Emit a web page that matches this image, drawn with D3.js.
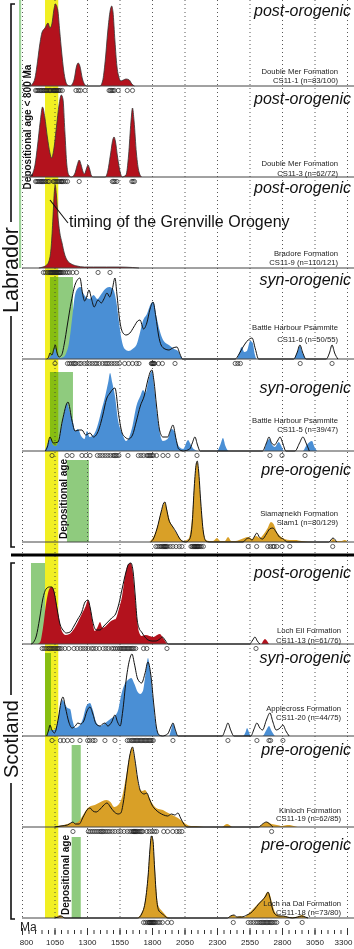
<!DOCTYPE html>
<html>
<head>
<meta charset="utf-8">
<script src="https://cdn.jsdelivr.net/npm/d3@7"></script>
<style>
  body { margin: 0; background: #fff; }
  svg { display: block; font-family: "Liberation Sans", Arial, sans-serif; }
</style>
</head>
<body>
<svg id="chart" width="354" height="949"></svg>
<script>
// ---- data -------------------------------------------------------------
const majorTicks = [800, 1050, 1300, 1550, 1800, 2050, 2300, 2550, 2800, 3050, 3300];
const tickLabels = ['800', '1050', '1300', '1550', '1800', '2050', '2300', '2550', '2800', '3050', '3300'];

const regions = ['Labrador', 'Scotland'];
const stages = ['post-orogenic', 'post-orogenic', 'post-orogenic', 'syn-orogenic', 'syn-orogenic',
  'pre-orogenic', 'post-orogenic', 'syn-orogenic', 'pre-orogenic', 'pre-orogenic'];
const formations = ['Double Mer Formation', 'Double Mer Formation', 'Bradore Formation',
  'Battle Harbour Psammite', 'Battle Harbour Psammite', 'Siamarnekh Formation',
  'Loch Eil Formation', 'Applecross Formation', 'Kinloch Formation', 'Loch na Dal Formation'];
const samples = ['CS11-1 (n=83/100)', 'CS11-3 (n=62/72)', 'CS11-9 (n=110/121)', 'CS11-6 (n=50/55)',
  'CS11-5 (n=39/47)', 'Siam1 (n=80/129)', 'CS11-13 (n=61/76)', 'CS11-20 (n=44/75)',
  'CS11-19 (n=62/85)', 'CS11-18 (n=73/80)'];

// grenville orogeny window and depositional age windows (Ma)
const grenville = [977, 1079];
const depoWindows = [null, null, null, [1015, 1192], [1015, 1192], [1146, 1315],
  [869, 977], [977, 1023], [1182, 1252], [1182, 1252]];

// probability density, [age, relative height]
const cs11_1Fill = [[860,0],[880,2],[900,8],[915,20],[935,40],[955,54],[977,58],[1000,63],[1015,58],[1030,62],[1045,76],[1057,82],[1075,76],[1090,55],[1105,34],[1120,16],[1135,5],[1150,1],[1170,0],[1200,6],[1220,20],[1232,23],[1245,20],[1265,7],[1285,1],[1300,0],[1400,0],[1420,5],[1440,25],[1460,55],[1478,75],[1490,80],[1500,74],[1515,45],[1530,20],[1545,9],[1560,5],[1580,6],[1600,7],[1625,6],[1645,2],[1665,0]];
const cs11_3Fill = [[860,0],[880,3],[900,12],[920,32],[940,55],[958,70],[975,60],[995,40],[1015,24],[1028,19],[1045,28],[1065,50],[1085,72],[1102,82],[1115,78],[1130,45],[1145,12],[1160,2],[1180,0],[1205,3],[1225,12],[1240,17],[1255,12],[1270,5],[1280,3],[1295,8],[1308,12],[1320,8],[1335,1],[1350,0],[1440,0],[1460,6],[1480,22],[1500,38],[1508,40],[1518,36],[1535,20],[1555,5],[1570,0],[1600,2],[1620,22],[1638,55],[1650,69],[1662,56],[1680,24],[1700,5],[1720,0]];
const cs11_9Fill = [[930,0],[960,1],[990,3],[1010,8],[1025,22],[1038,50],[1048,75],[1055,83],[1064,74],[1076,52],[1090,36],[1108,25],[1125,15],[1146,8],[1180,4],[1223,2],[1280,1],[1350,1],[1450,1],[1550,1],[1650,0.5],[1700,0]];

const cs11_6Fill = [[1000,0],[1020,3],[1040,6],[1055,11],[1070,4],[1090,1],[1120,2],[1140,6],[1160,15],[1185,40],[1205,62],[1225,70],[1250,72],[1270,66],[1290,62],[1320,60],[1350,64],[1380,60],[1410,65],[1440,70],[1470,72],[1500,70],[1525,58],[1545,38],[1565,20],[1590,10],[1620,8],[1650,10],[1680,14],[1705,25],[1730,38],[1761,45],[1790,55],[1810,57],[1835,42],[1860,28],[1890,18],[1930,14],[1970,10],[2000,8],[2020,3],[2040,0],[2450,0],[2470,6],[2490,12],[2510,7],[2530,8],[2555,18],[2575,16],[2590,5],[2605,0],[2890,0],[2915,6],[2938,13],[2960,5],[2985,0]];
const cs11_6Line = [[990,0],[1005,2],[1015,6],[1030,4],[1045,10],[1056,14],[1068,7],[1085,2],[1105,4],[1125,15],[1150,35],[1180,58],[1210,75],[1246,81],[1265,66],[1282,58],[1300,63],[1315,69],[1335,60],[1355,52],[1385,59],[1410,56],[1430,60],[1454,66],[1475,62],[1495,70],[1515,81],[1530,65],[1550,40],[1577,26],[1600,24],[1630,26],[1660,32],[1690,38],[1708,39],[1735,30],[1760,36],[1785,50],[1808,57],[1830,42],[1850,24],[1870,14],[1900,10],[1930,9],[1960,11],[1992,12],[2015,5],[2035,0],[2440,0],[2470,5],[2500,12],[2540,19],[2570,21],[2595,10],[2620,0],[2890,0],[2915,6],[2938,14],[2960,6],[2985,0],[3140,0],[3165,6],[3185,14],[3205,6],[3230,0]];

const cs11_5Fill = [[975,0],[990,5],[1005,10],[1020,12],[1040,6],[1060,5],[1090,15],[1120,35],[1145,48],[1165,40],[1190,30],[1210,20],[1230,22],[1255,15],[1280,12],[1300,20],[1320,14],[1350,16],[1380,25],[1410,40],[1440,55],[1465,70],[1477,78],[1495,68],[1515,55],[1540,30],[1570,18],[1600,10],[1625,14],[1650,25],[1680,45],[1710,55],[1731,61],[1750,58],[1775,72],[1800,80],[1820,60],[1840,35],[1860,18],[1884,10],[1920,12],[1950,22],[1970,20],[1990,10],[2010,4],[2040,2],[2077,11],[2100,6],[2120,2],[2160,0],[2300,0],[2325,6],[2346,13],[2365,5],[2390,0],[2660,0],[2680,8],[2705,12],[2725,6],[2745,4],[2775,9],[2795,5],[2815,0],[2960,0],[2990,6],[3031,10],[3050,4],[3070,0]];
const cs11_5Line = [[980,0],[995,4],[1015,14],[1040,8],[1077,9],[1110,30],[1154,49],[1185,30],[1208,20],[1240,21],[1261,21],[1290,16],[1323,18],[1350,14],[1380,18],[1420,35],[1450,52],[1477,58],[1500,62],[1515,63],[1545,35],[1570,18],[1592,14],[1620,12],[1650,16],[1680,30],[1710,45],[1740,55],[1770,72],[1790,80],[1800,81],[1815,70],[1835,45],[1860,20],[1884,14],[1920,14],[1940,20],[1961,26],[1985,12],[2005,2],[2040,0],[2090,2],[2110,8],[2130,14],[2150,6],[2170,0],[2650,0],[2680,8],[2700,14],[2720,8],[2742,6],[2765,10],[2785,14],[2805,8],[2830,0],[2900,0],[2935,8],[2961,14],[2985,8],[3010,0]];

const siam1Fill = [[1780,0],[1810,5],[1840,15],[1870,30],[1890,38],[1900,40],[1915,33],[1935,22],[1960,15],[1990,8],[2020,3],[2040,1],[2080,3],[2105,20],[2125,55],[2140,78],[2148,80],[2158,72],[2175,40],[2195,12],[2215,2],[2240,1],[2270,1],[2300,4],[2325,1],[2360,1],[2385,5],[2410,1],[2440,1],[2470,2],[2510,4],[2540,5],[2570,3],[2600,6],[2630,4],[2660,8],[2690,14],[2715,20],[2735,18],[2760,10],[2785,6],[2820,3],[2860,2],[2900,2],[2950,1],[3050,0],[3170,0],[3192,3],[3215,1],[3260,1],[3280,2],[3300,1]];
const siam1Line = [[1790,0],[1810,3],[1840,14],[1870,30],[1890,39],[1900,40],[1912,33],[1930,22],[1950,17],[1961,15],[1985,10],[2010,4],[2030,1],[2060,0],[2090,3],[2110,20],[2125,55],[2140,78],[2148,81],[2158,72],[2175,40],[2195,10],[2215,1],[2240,0],[2500,0],[2525,3],[2545,4],[2570,2],[2590,6],[2607,9],[2625,5],[2650,3],[2680,8],[2705,13],[2730,14],[2755,10],[2780,5],[2810,3],[2840,0],[3160,0],[3192,4],[3220,0]];

const cs11_13Fill = [[920,0],[940,2],[960,15],[985,40],[1010,55],[1028,57],[1045,54],[1065,40],[1085,25],[1110,12],[1135,9],[1165,10],[1200,15],[1230,22],[1260,30],[1290,38],[1308,44],[1322,38],[1340,24],[1360,13],[1385,18],[1400,22],[1420,16],[1445,18],[1475,22],[1500,24],[1520,25],[1545,35],[1570,48],[1595,70],[1620,80],[1638,81],[1652,72],[1668,50],[1685,25],[1700,12],[1720,8],[1750,9],[1780,8],[1810,7],[1840,9],[1860,10],[1880,7],[1900,3],[1920,0],[2640,0],[2655,3],[2669,5],[2685,3],[2700,0]];
const cs11_13Line = [[870,0],[890,2],[910,8],[935,25],[960,45],[985,55],[1010,57],[1030,57],[1050,50],[1070,35],[1092,20],[1115,14],[1140,11],[1170,12],[1200,18],[1230,25],[1260,32],[1285,42],[1308,44],[1325,36],[1345,22],[1370,14],[1400,14],[1430,18],[1460,22],[1490,26],[1520,30],[1545,40],[1570,55],[1600,72],[1620,80],[1638,81],[1655,72],[1670,50],[1685,25],[1700,16],[1720,12],[1740,8],[1770,4],[1800,3],[1830,3],[1860,5],[1880,7],[1900,4],[1925,0],[2550,0],[2575,4],[2592,7],[2610,3],[2630,0]];

const cs11_20Fill = [[990,0],[1010,5],[1030,6],[1050,6],[1075,15],[1095,30],[1112,36],[1130,32],[1150,28],[1170,27],[1190,15],[1210,8],[1240,10],[1270,18],[1295,30],[1323,33],[1345,26],[1370,14],[1400,10],[1430,12],[1460,15],[1490,18],[1515,20],[1540,26],[1565,42],[1590,52],[1615,56],[1640,58],[1665,52],[1690,44],[1710,42],[1730,45],[1750,62],[1769,78],[1785,66],[1805,40],[1825,15],[1845,3],[1870,0],[1930,0],[1950,8],[1961,13],[1980,5],[2000,0],[2500,0],[2520,4],[2531,8],[2545,4],[2560,0],[2650,0],[2680,6],[2700,10],[2720,5],[2745,0]];
const cs11_20Line = [[990,0],[1005,6],[1015,11],[1030,6],[1050,3],[1080,18],[1100,34],[1115,39],[1135,28],[1160,14],[1185,8],[1210,10],[1230,13],[1250,12],[1275,15],[1300,25],[1323,29],[1345,22],[1370,12],[1400,10],[1420,12],[1438,13],[1460,10],[1490,14],[1515,21],[1535,14],[1555,10],[1575,25],[1600,55],[1625,75],[1646,82],[1665,72],[1690,57],[1720,53],[1745,62],[1769,74],[1790,62],[1815,30],[1835,8],[1855,1],[1880,0],[1920,2],[1945,9],[1961,13],[1980,6],[2000,0],[2340,0],[2365,7],[2384,13],[2405,6],[2430,0],[2560,0],[2585,7],[2607,13],[2630,8],[2650,6],[2680,16],[2707,23],[2730,14],[2755,6],[2785,8],[2807,11],[2830,5],[2855,0]];

const cs11_19Fill = [[1050,0],[1080,1],[1120,2],[1150,3],[1180,4],[1210,4],[1240,6],[1270,12],[1300,18],[1330,21],[1360,22],[1390,24],[1420,26],[1450,27],[1480,25],[1510,20],[1540,22],[1570,30],[1600,50],[1625,70],[1648,80],[1665,68],[1685,50],[1705,38],[1725,36],[1746,37],[1770,32],[1800,24],[1823,20],[1850,18],[1884,17],[1910,15],[1940,13],[1970,11],[2000,9],[2030,6],[2060,3],[2100,1],[2140,1],[2200,0],[2340,0],[2360,2],[2377,3],[2395,2],[2420,0],[2620,0],[2650,3],[2684,5],[2720,3],[2760,2],[2800,1],[2840,2],[2861,2],[2890,1],[2920,0]];
const cs11_19Line = [[1050,0],[1100,1],[1150,2],[1175,4],[1192,5],[1210,3],[1240,3],[1270,10],[1300,17],[1323,19],[1345,16],[1370,15],[1395,17],[1430,22],[1454,24],[1480,20],[1510,15],[1540,13],[1560,14],[1580,25],[1605,50],[1630,72],[1650,80],[1668,68],[1690,48],[1715,35],[1740,33],[1760,34],[1780,28],[1800,22],[1830,17],[1860,14],[1890,12],[1920,11],[1950,13],[1975,12],[2000,14],[2020,9],[2045,3],[2070,0],[2620,0],[2650,3],[2680,5],[2705,3],[2730,0]];

const cs11_18Fill = [[1050,0],[1075,2],[1092,3],[1110,1],[1130,0],[1680,0],[1720,5],[1750,20],[1770,45],[1785,70],[1795,82],[1805,80],[1820,55],[1835,25],[1850,12],[1870,8],[1890,5],[1910,2],[1940,0],[2380,0],[2405,2],[2425,3],[2450,1],[2480,2],[2510,1],[2540,4],[2570,8],[2600,12],[2630,16],[2660,20],[2680,25],[2695,26],[2710,22],[2725,14],[2745,6],[2770,3],[2800,2],[2825,2],[2850,1],[2900,1],[2930,2],[2954,3],[2980,1],[3000,0]];
const cs11_18Line = [[1050,0],[1080,1],[1100,2],[1130,0],[1690,0],[1720,4],[1750,18],[1770,42],[1785,70],[1795,82],[1807,78],[1820,50],[1835,20],[1850,8],[1870,5],[1890,3],[1920,0],[2380,0],[2405,2],[2430,3],[2455,1],[2490,1],[2530,3],[2560,5],[2590,9],[2620,14],[2650,18],[2675,22],[2692,26],[2708,20],[2725,10],[2745,4],[2775,2],[2810,2],[2840,1],[2880,0],[2920,1],[2950,2],[2980,1],[3000,0]];

// individual concordant grain ages (Ma)
const cs11_1Grains = [905,915,925,935,945,950,960,968,975,985,990,1000,1010,1015,1020,1030,1040,1045,1050,1055,1060,1065,1070,1078,1085,1095,1110,1215,1235,1250,1285,1470,1480,1490,1500,1510,1540,1610,1650];
const cs11_3Grains = [905,915,925,935,945,950,958,965,975,985,1000,1010,1040,1050,1060,1070,1080,1090,1100,1105,1110,1120,1135,1150,1240,1495,1505,1515,1530,1645,1655,1665];
const cs11_9Grains = [965,980,995,1005,1015,1020,1025,1030,1035,1040,1045,1050,1055,1060,1065,1070,1075,1080,1085,1090,1095,1100,1110,1120,1135,1150,1165,1190,1220,1385,1477];
const cs11_6Grains = [1054,1150,1165,1180,1195,1205,1215,1240,1255,1280,1300,1320,1340,1360,1375,1395,1420,1440,1455,1470,1490,1510,1530,1550,1590,1620,1650,1680,1700,1795,1800,1805,1810,1815,1820,1850,1880,1977,2440,2460,2480,2940,3185];
const cs11_5Grains = [1031,1146,1185,1261,1292,1323,1380,1400,1420,1440,1460,1480,1500,1510,1520,1530,1545,1615,1695,1715,1735,1760,1770,1780,1790,1800,1810,1835,1884,1923,1992,2146,2707,2800,2977];
const siam1Grains = [1830,1845,1860,1870,1880,1890,1895,1900,1905,1910,1920,1940,1960,1985,2010,2030,2100,2110,2120,2125,2130,2135,2140,2145,2150,2155,2160,2170,2180,2195,2540,2605,2690,2710,2730,2740,2760,2800,2860,3190];
const cs11_13Grains = [955,970,985,1000,1010,1020,1030,1040,1050,1060,1070,1080,1090,1105,1130,1160,1200,1225,1250,1270,1290,1310,1335,1350,1370,1395,1425,1445,1465,1490,1505,1520,1535,1550,1560,1570,1580,1590,1600,1610,1620,1630,1640,1650,1660,1675,1735,1760,1915,2600];
const cs11_20Grains = [1031,1095,1120,1150,1185,1246,1305,1320,1345,1362,1438,1515,1610,1625,1640,1650,1660,1670,1680,1690,1700,1710,1720,1730,1740,1750,1760,1770,1780,1790,1800,1810,1961,2384,2607,2700,2712,2807];
const cs11_19Grains = [1192,1310,1325,1340,1355,1370,1385,1400,1410,1420,1430,1445,1460,1475,1495,1515,1540,1560,1585,1610,1630,1645,1655,1660,1665,1670,1675,1680,1690,1700,1710,1720,1730,1760,1780,1800,1820,1835,1890,1920,1960,1990,2010,2030,2720];
const cs11_18Grains = [1735,1750,1765,1775,1780,1785,1790,1795,1800,1805,1810,1815,1820,1830,1845,1860,1880,1920,1950,2425,2540,2560,2580,2600,2615,2630,2640,2650,2660,2670,2680,2690,2700,2710,2720,2730,2745,2760,2840,2955];

const fills = [cs11_1Fill, cs11_3Fill, cs11_9Fill, cs11_6Fill, cs11_5Fill, siam1Fill, cs11_13Fill, cs11_20Fill, cs11_19Fill, cs11_18Fill];
const lines = [cs11_1Fill, cs11_3Fill, cs11_9Fill, cs11_6Line, cs11_5Line, siam1Line, cs11_13Line, cs11_20Line, cs11_19Line, cs11_18Line];
const grains = [cs11_1Grains, cs11_3Grains, cs11_9Grains, cs11_6Grains, cs11_5Grains, siam1Grains, cs11_13Grains, cs11_20Grains, cs11_19Grains, cs11_18Grains];

// ---- layout & style ---------------------------------------------------
const layout = [
  { base: 86,  top: 0,   title: 16,  lab: [-12, -3],  right: 338 },
  { base: 177, top: 95,  title: 104, lab: [-11, -1],  right: 338 },
  { base: 268, top: 185, title: 193, lab: [-12, -3],  right: 338 },
  { base: 359, top: 277, title: 285, lab: [-29, -17], right: 338 },
  { base: 451, top: 372, title: 393, lab: [-28, -19], right: 338 },
  { base: 542, top: 460, title: 475, lab: [-26, -17], right: 338 },
  { base: 644, top: 563, title: 578, lab: [-11, -1],  right: 341 },
  { base: 736, top: 653, title: 663, lab: [-25, -16], right: 341 },
  { base: 827, top: 745, title: 755, lab: [-14, -6],  right: 341 },
  { base: 918, top: 837, title: 850, lab: [-12, -3],  right: 341 }
];
const fillColor = ['#b3121d', '#b3121d', '#b3121d', '#4a8fd5', '#4a8fd5', '#d9a027',
  '#b3121d', '#4a8fd5', '#d9a027', '#d9a027'];

const svg = d3.select('#chart');
const x = d3.scaleLinear().domain([800, 3300]).range([22, 347]);

// grenville band, full height
svg.append('rect')
  .attr('x', x(grenville[0]))
  .attr('y', 0)
  .attr('width', x(grenville[1]) - x(grenville[0]))
  .attr('height', 918)
  .attr('fill', '#f1ef22');

// thin green strip for the "< 800 Ma" panels
svg.append('rect')
  .attr('x', x(800) - 3).attr('y', 0)
  .attr('width', 2.2).attr('height', 268)
  .attr('fill', '#9fd49a');

// depositional age windows
depoWindows.forEach((w, i) => {
  if (!w) return;
  const L = layout[i];
  svg.append('rect')
    .attr('x', x(w[0]))
    .attr('y', L.top)
    .attr('width', x(w[1]) - x(w[0]))
    .attr('height', L.base - L.top)
    .attr('fill', '#8fcb7e')
    .style('mix-blend-mode', 'multiply');
});

// dotted grid
svg.append('g')
  .selectAll('line')
  .data(majorTicks)
  .join('line')
  .attr('x1', d => x(d) + 0.5).attr('x2', d => x(d) + 0.5)
  .attr('y1', 0).attr('y2', 919)
  .attr('stroke', '#444')
  .attr('stroke-width', 0.9)
  .attr('stroke-dasharray', '1 3');

// panels
layout.forEach((L, i) => {
  const y = d3.scaleLinear().domain([0, 100]).range([L.base, L.base - 100]);

  const area = d3.area()
    .x(d => x(d[0]))
    .y0(y(0))
    .y1(d => y(d[1]))
    .curve(d3.curveMonotoneX);

  const line = d3.line()
    .x(d => x(d[0]))
    .y(d => y(d[1]))
    .curve(d3.curveMonotoneX);

  svg.append('path')
    .datum(fills[i])
    .attr('d', area)
    .attr('fill', fillColor[i]);

  // baseline
  svg.append('line')
    .attr('x1', 22).attr('x2', 354)
    .attr('y1', L.base).attr('y2', L.base)
    .attr('stroke', '#444')
    .attr('stroke-width', 1);

  svg.append('path')
    .datum(lines[i])
    .attr('d', line)
    .attr('fill', 'none')
    .attr('stroke', i < 3 ? '#333' : '#111')
    .attr('stroke-width', i < 3 ? 0.8 : 1);

  // grain ages
  svg.append('g')
    .selectAll('circle')
    .data(grains[i])
    .join('circle')
    .attr('cx', d => x(d))
    .attr('cy', L.base + 4.5)
    .attr('r', 2.1)
    .attr('fill', 'none')
    .attr('stroke', '#222')
    .attr('stroke-width', 0.7);

  // stage title
  svg.append('text')
    .attr('x', 351)
    .attr('y', L.title)
    .attr('text-anchor', 'end')
    .style('font-size', '16px')
    .style('font-style', 'italic')
    .attr('fill', '#111')
    .text(stages[i]);

  // formation & sample
  [formations[i], samples[i]].forEach((t, k) => {
    svg.append('text')
      .attr('x', L.right)
      .attr('y', L.base + L.lab[k])
      .attr('text-anchor', 'end')
      .style('font-size', '7.7px')
      .attr('fill', '#222')
      .text(t);
  });
});

// region brackets
svg.append('path')
  .attr('d', 'M15,4H11V222M11,316V547H15M15,563H11V695M11,783V919H15')
  .attr('fill', 'none')
  .attr('stroke', '#111')
  .attr('stroke-width', 1.6);

// separator
svg.append('line')
  .attr('x1', 11).attr('x2', 354)
  .attr('y1', 555).attr('y2', 555)
  .attr('stroke', '#000')
  .attr('stroke-width', 3);

[[regions[0], 18, 270, 21.5], [regions[1], 18, 739, 20]].forEach(r => {
  svg.append('text')
    .attr('transform', `translate(${r[1]},${r[2]}) rotate(-90)`)
    .attr('text-anchor', 'middle')
    .style('font-size', r[3] + 'px')
    .attr('fill', '#111')
    .text(r[0]);
});

// depositional age labels
[['Depositional age < 800 Ma', 30.5, 127], ['Depositional age', 67, 499], ['Depositional age', 69, 875]]
  .forEach(r => {
    svg.append('text')
      .attr('transform', `translate(${r[1]},${r[2]}) rotate(-90)`)
      .attr('text-anchor', 'middle')
      .style('font-size', '10px')
      .style('font-weight', 'bold')
      .attr('fill', '#111')
      .text(r[0]);
  });

// grenville callout
svg.append('line')
  .attr('x1', 50).attr('y1', 200)
  .attr('x2', 68).attr('y2', 223)
  .attr('stroke', '#111')
  .attr('stroke-width', 1.1);
svg.append('text')
  .attr('x', 69).attr('y', 227)
  .style('font-size', '16px')
  .attr('fill', '#111')
  .text('timing of the Grenville Orogeny');

// bottom axis
const minorAxis = d3.axisBottom(x)
  .tickValues(d3.range(800, 3301, 50))
  .tickSize(4)
  .tickFormat('');
const majorAxis = d3.axisBottom(x)
  .tickValues(majorTicks)
  .tickSize(7)
  .tickPadding(4)
  .tickFormat((d, i) => tickLabels[i]);

const gMinor = svg.append('g').attr('transform', 'translate(0,930)').call(minorAxis);
const gMajor = svg.append('g').attr('transform', 'translate(0,928)').call(majorAxis);
[gMinor, gMajor].forEach(g => {
  g.select('.domain').remove();
  g.selectAll('line').attr('stroke', '#333');
});
gMajor.selectAll('text')
  .style('font-size', '8px')
  .attr('fill', '#222');
gMajor.selectAll('text').filter(d => d === 3300).attr('dx', -4);
gMajor.selectAll('text').filter(d => d === 800).attr('dx', 4);

svg.append('text')
  .attr('x', 20).attr('y', 931)
  .style('font-size', '12px')
  .attr('fill', '#222')
  .text('Ma');
</script>
</body>
</html>
